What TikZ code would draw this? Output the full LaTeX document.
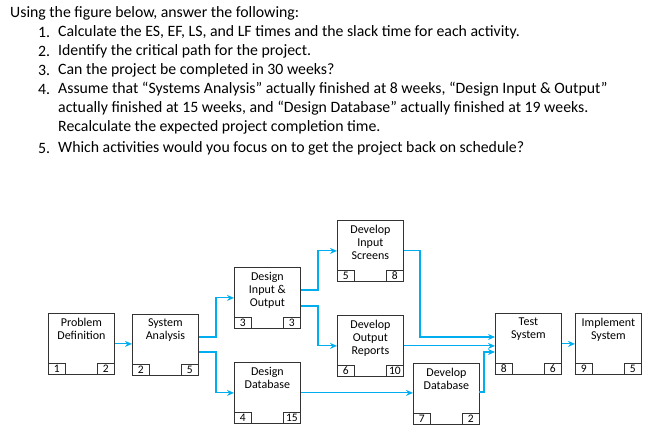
\documentclass[tikz,border=0pt]{standalone}
\usepackage{fontspec}
\setmainfont{Carlito}
\usetikzlibrary{calc,arrows.meta}
\definecolor{arrc}{RGB}{0,174,239}
\begin{document}
\begin{tikzpicture}[x=1pt,y=-1pt,
  act/.style={draw=black!80,line width=0.8pt,minimum width=66pt,minimum height=61pt,anchor=north west,inner sep=0pt},
  acttext/.style={anchor=north,align=center,font=\fontsize{12}{13}\selectfont,inner sep=0pt},
  numbox/.style={draw=black!80,line width=0.8pt,minimum width=17pt,minimum height=11pt,inner sep=0pt,font=\fontsize{11.5}{11}\selectfont},
  arr/.style={draw=arrc,line width=1.2pt,-{Stealth[length=7pt,width=6pt]}},
  qline/.style={anchor=west,inner sep=0pt,font=\fontsize{15.8}{17}\selectfont}]
\useasboundingbox (0,0) rectangle (659,438);
% questions
\node[qline] (q0) at (10,13) {Using the figure below, answer the following:};
\node[qline] (n1) at (38,32) {1.}; \node[qline] (q1) at (58,32) {Calculate the ES, EF, LS, and LF times and the slack time for each activity.};
\node[qline] (n2) at (38,51) {2.}; \node[qline] (q2) at (58,51) {Identify the critical path for the project.};
\node[qline] (n3) at (38,70) {3.}; \node[qline] (q3) at (58,70) {Can the project be completed in 30 weeks?};
\node[qline] (n4) at (38,89) {4.}; \node[qline] (q4) at (58,89) {Assume that “Systems Analysis” actually finished at 8 weeks, “Design Input \& Output”};
\node[qline] (q4b) at (58,108) {actually finished at 15 weeks, and “Design Database” actually finished at 19 weeks.};
\node[qline] (q4c) at (58,127) {Recalculate the expected project completion time.};
\node[qline] (n5) at (38,148) {5.}; \node[qline] (q5) at (58,148) {Which activities would you focus on to get the project back on schedule?};
% activity boxes
\foreach \n/\x/\y/\t/\a/\b in {
  pd/48/313/Problem\\Definition/1/2,
  sa/132/314/System\\Analysis/2/5,
  dio/234/267/Design\\Input \&\\Output/3/3,
  ddb/234/362/Design\\Database/4/15,
  dis/337/220/Develop\\Input\\Screens/5/8,
  dor/337/315/Develop\\Output\\Reports/6/10,
  dvb/413/363/Develop\\Database/7/2,
  ts/495/313/Test\\System/8/6,
  im/575/313/Implement\\System/9/5}{
  \node[act] (\n) at (\x,\y) {};
  \node[acttext] (\n t) at ($(\n.north)+(0,5)$) {\t};
  \node[numbox,anchor=south west] (\n a) at (\n.south west) {\a};
  \node[numbox,anchor=south east] (\n b) at (\n.south east) {\b};
}
% connectors
\draw[arr] (pd.east) -- (sa.west|-pd.east);
\draw[arr] ($(sa.north east)+(0,23)$) -| (216,320) |- (dio.west);
\draw[arr] ($(sa.north east)+(0,38)$) -| (216,370) |- (ddb.west);
\draw[arr] ($(dio.north east)+(0,23)$) -| (318,270) |- (dis.west);
\draw[arr] ($(dio.north east)+(0,39)$) -| (318,330) |- (dor.west);
\draw[arr] (ddb.east) -- (dvb.west|-ddb.east);
\draw[arr] (dis.east) -| (420,300) |- ($(ts.north west)+(0,24)$);
\draw[arr] (dor.east) -- (ts.west|-dor.east);
\draw[arr] ($(dvb.north west)+(66,29)$) -| (484,360) |- ($(ts.north west)+(0,39)$);
\draw[arr] (ts.east) -- (im.west);
\end{tikzpicture}
\end{document}
